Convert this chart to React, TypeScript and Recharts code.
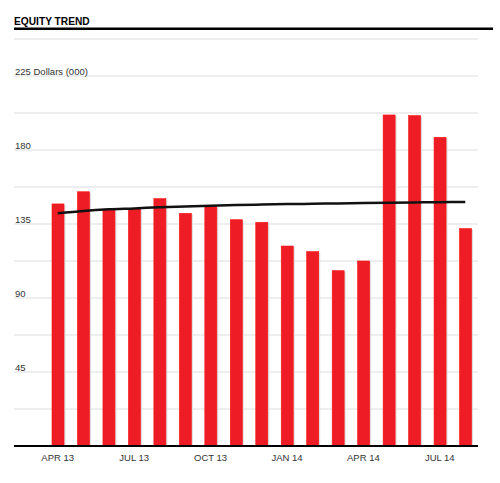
import React from "react";
import {
  ComposedChart,
  Bar,
  Line,
  XAxis,
  YAxis,
  CartesianGrid,
} from "recharts";

const MONTHS = [
  "APR 13", "MAY 13", "JUN 13", "JUL 13", "AUG 13", "SEP 13", "OCT 13", "NOV 13", "DEC 13",
  "JAN 14", "FEB 14", "MAR 14", "APR 14", "MAY 14", "JUN 14", "JUL 14", "AUG 14",
];
const EQUITY = [
  147.2, 154.6, 143.9, 144.5, 150.4, 141.5, 145.5, 137.6, 136.0,
  121.6, 118.2, 106.6, 112.5, 201.3, 200.9, 187.7, 132.2,
];
const TREND = [
  141.5, 142.9, 143.9, 144.5, 145.2, 145.7, 146.1, 146.5, 146.8,
  147.1, 147.3, 147.5, 147.7, 147.9, 148.1, 148.3, 148.4,
];
const Y_TICKS = [0, 22.5, 45, 67.5, 90, 112.5, 135, 157.5, 180, 202.5, 225, 247.5];
const Y_LABELS: Record<string, string> = {
  "45": "45",
  "90": "90",
  "135": "135",
  "180": "180",
  "225": "225 Dollars (000)",
};
const TITLE = "EQUITY TREND";

const data = MONTHS.map((m, i) => ({ month: m, equity: EQUITY[i], trend: TREND[i] }));

const FONT = "'Liberation Sans', Arial, Helvetica, sans-serif";
const PLOT_LEFT = 14;

const renderYTick = (props: any) => {
  const { y, payload, index } = props;
  const label = Y_LABELS[String(payload.value)];
  if (!label) return <g key={`yt-${index}`} />;
  return (
    <text
      key={`yt-${index}`}
      x={PLOT_LEFT + 1}
      y={y - 1.5}
      fontSize={9.5}
      fill="#333"
      fontFamily={FONT}
      textAnchor="start"
    >
      {label}
    </text>
  );
};

const BarShape = (props: any) => {
  const { x, y, width, height } = props;
  if (height <= 0) return null;
  return (
    <g>
      <rect x={x + 1.5} y={y + 1} width={width} height={height - 1} fill="#dcdcdc" />
      <rect x={x} y={y} width={width} height={height} fill="#ee1c25" stroke="#ff1010" strokeWidth={0.6} />
    </g>
  );
};

export default function App() {
  return (
    <div style={{ position: "absolute", left: 0, top: 0, width: 500, height: 483, background: "#fff" }}>
      <svg width={500} height={40} style={{ position: "absolute", left: 0, top: 0 }}>
        <text x={14} y={24.7} fontSize={10.2} fontWeight="bold" fill="#000" fontFamily={FONT}>
          {TITLE}
        </text>
        <line x1={14} x2={493} y1={28.7} y2={28.7} stroke="#000" strokeWidth={2.5} />
      </svg>
      <div style={{ position: "absolute", left: 0, top: 0 }}>
        <ComposedChart
          width={500}
          height={483}
          data={data}
          margin={{ top: 39, right: 22, left: PLOT_LEFT - 1, bottom: 7 }}
        >
          <CartesianGrid horizontal vertical={false} stroke="#dddddd" strokeWidth={1} />
          <XAxis
            dataKey="month"
            interval={2}
            padding={{ left: 31, right: 0 }}
            tickLine={false}
            axisLine={{ stroke: "#000", strokeWidth: 2 }}
            tick={{ fontSize: 9.5, fill: "#333", fontFamily: FONT }}
            height={30}
          />
          <YAxis
            width={1}
            domain={[0, 247.5]}
            ticks={Y_TICKS}
            axisLine={false}
            tickLine={false}
            tick={renderYTick}
            interval={0}
          />
          <Bar dataKey="equity" barSize={12} shape={<BarShape />} isAnimationActive={false} />
          <Line
            dataKey="trend"
            type="monotone"
            stroke="#111"
            strokeWidth={2.5}
            dot={false}
            activeDot={false}
            isAnimationActive={false}
          />
        </ComposedChart>
      </div>
    </div>
  );
}
